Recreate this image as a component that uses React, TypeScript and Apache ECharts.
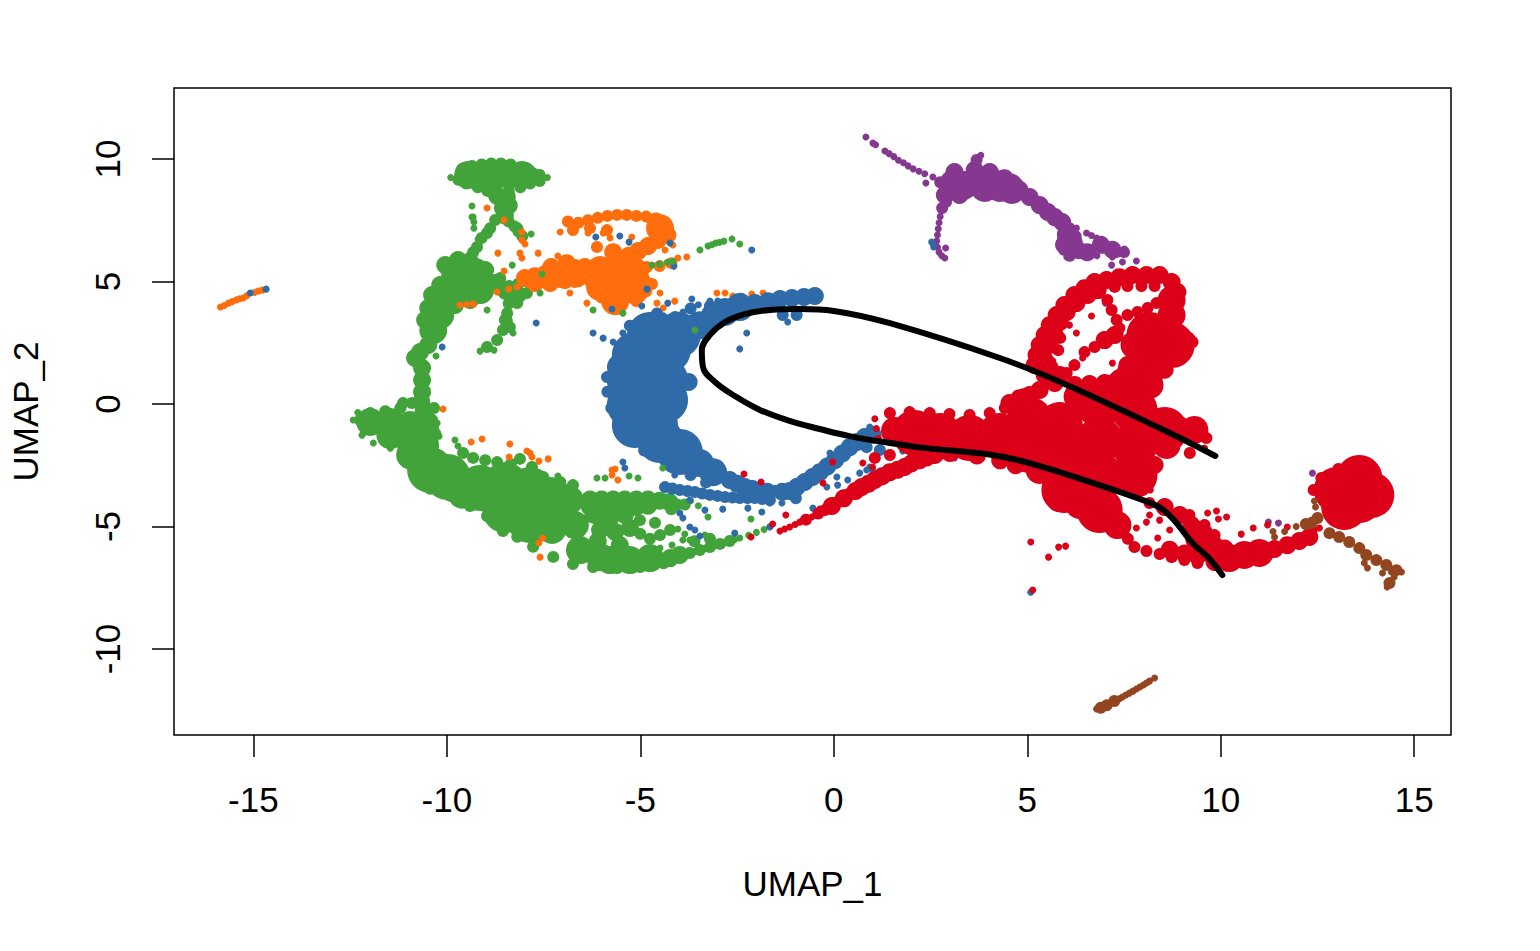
import React, { useEffect, useRef } from "react";
import * as echarts from "echarts";

type P = [number, number];

const xTicks = [-15, -10, -5, 0, 5, 10, 15];
const yTicks = [-10, -5, 0, 5, 10];
const xName = "UMAP_1";
const yName = "UMAP_2";

// ---- green cluster
const greenXL: P[] = [[-10.43, -2.69], [-9.98, -2.98], [-9.14, -3.43], [-8.49, -3.31], [-8.49, -4.33], [-7.85, -3.51], [-7.85, -4.74], [-7.33, -3.92]];
const greenL: P[] = [
  [-9.45, 9.35], [-9.1, 9.35], [-8.75, 9.35], [-8.4, 9.35], [-8.05, 9.35],
  [-9.79, 5.39], [-9.27, 5.39], [-9.66, 4.65], [-9.14, 4.65], [-10.04, 4.25], [-10.17, 3.63], [-10.35, 3.02],
  [-11.98, -0.73], [-11.46, -0.73], [-10.95, -0.86], [-10.56, -0.86], [-11.46, -1.27], [-10.95, -1.55], [-10.56, -1.67],
  [-7.28, -5.14], [-6.82, -3.92], [-6.69, -4.94], [-6.56, -5.96], [-6.04, -6.25], [-5.78, -6.37], [-5.27, -6.37], [-4.75, -6.29], [-10.95, -2.08], [-9.6, -3.7],
];
const greenM: P[] = [
  [-7.8, 9.3], [-8.7, 8.5], [-8.45, 8.45], [-8.4, 8.1], [-8.55, 8.0], [-8.5, 7.7],
  [-10.04, 5.67], [-9.71, 5.88], [-9.4, 5.8], [-9.01, 5.47], [-8.75, 4.94], [-8.49, 4.65], [-8.24, 4.57], [-10.17, 4.86], [-10.38, 4.45], [-10.48, 3.92], [-10.56, 3.43], [-9.79, 4.04], [-9.4, 4.25],
  [-10.48, 2.41], [-10.69, 2.12], [-10.82, 1.88], [-10.64, 1.47], [-10.64, 0.98], [-10.64, 0.49], [-10.66, 0.08], [-10.6, -0.3],
  [-6.3, -3.9], [-6.0, -3.9], [-5.7, -3.9], [-5.4, -3.9], [-5.1, -3.9], [-4.8, -3.9], [-4.5, -3.95], [-4.25, -4.0],
  [-6.3, -4.2], [-6.0, -4.2], [-5.7, -4.2], [-5.4, -4.2], [-5.1, -4.2], [-4.8, -4.15],
  [-6.17, -4.53], [-5.78, -4.65], [-5.4, -4.53], [-6.04, -5.14], [-5.65, -5.22], [-5.27, -5.06], [-5.53, -5.76], [-6.1, -5.6], [-4.23, -6.29], [-3.98, -6.16],
];
const greenS: P[] = [
  [-9.6, 9.6], [-9.35, 9.72], [-9.1, 9.78], [-8.85, 9.82], [-8.6, 9.82], [-8.35, 9.78], [-8.1, 9.65], [-7.85, 9.5], [-7.6, 9.35], [-9.7, 9.15], [-9.5, 9.0], [-9.2, 8.85], [-8.95, 8.7], [-8.7, 8.7], [-8.4, 8.7], [-8.1, 8.85], [-7.85, 9.0], [-7.6, 9.1],
  [-8.75, 7.51], [-8.88, 7.18], [-8.96, 6.98], [-9.1, 6.78], [-9.22, 6.41], [-9.32, 6.2], [-9.4, 5.98], [-8.4, 7.45], [-8.25, 7.25], [-8.18, 7.18], [-8.15, 7.05], [-8.05, 6.85],
  [-8.37, 4.37], [-7.93, 4.53], [-8.18, 4.12], [-8.1, 4.4], [-8.5, 4.5], [-8.44, 3.71], [-8.37, 3.14], [-8.45, 3.4], [-8.5, 3.43], [-8.55, 3.02], [-8.7, 2.61], [-8.96, 2.33], [-8.62, 5.14], [-8.39, 4.82], [-8.16, 4.9], [-8.8, 4.8], [-8.4, 4.1],
  [-12.24, -0.65], [-11.98, -0.37], [-11.59, -0.29], [-11.2, -0.16], [-11.13, 0.04], [-10.9, 0.04], [-10.38, -0.65], [-10.33, -0.16], [-10.3, -1.2],
  [-9.58, -2.0], [-9.32, -2.2], [-9.01, -2.29], [-8.7, -2.37], [-8.35, -2.45], [-8.11, -2.24], [-7.8, -2.57], [-7.51, -2.98], [-7.07, -3.18], [-6.74, -3.31],
  [-11.03, -2.4], [-10.77, -2.97], [-10.43, -3.46], [-9.91, -3.75], [-9.4, -4.16], [-8.96, -4.57], [-8.55, -5.18], [-8.18, -5.42], [-7.77, -5.83], [-7.25, -6.24], [-6.74, -6.53], [-6.22, -6.65], [-5.6, -6.7], [-5.0, -6.65], [-4.4, -6.5],
  [-3.72, -6.08], [-3.46, -5.96], [-3.2, -5.84], [-2.94, -5.71], [-2.69, -5.59],
  [-4.05, -4.1], [-3.85, -4.1], [-4.2, -4.3], [-5.01, -4.74], [-4.62, -4.85], [-4.75, -5.5], [-4.49, -5.35], [-4.23, -5.14], [-5.0, -5.3], [-6.3, -4.6], [-3.6, -5.6], [-3.2, -5.5],
];
const greenFine: P[] = [
  [-9.9, 9.25], [-7.4, 9.25], [-9.35, 7.63], [-9.32, 7.63], [-9.3, 7.43], [-9.3, 7.18], [-9.19, 6.73], [-9.14, 2.16], [-8.78, 2.2], [-8.29, 2.9],
  [-12.42, -0.65], [-12.3, -0.35], [-12.19, -1.27], [-11.9, -1.59], [-11.46, -1.8], [-11.2, -2.2], [-10.25, -0.78],
  [-2.43, -5.47], [-2.2, -5.36], [-2.0, -5.24], [-1.8, -5.12], [-1.65, -5.0], [-3.5, -4.15], [-3.7, -3.95], [-10.3, 3.95],
  [-9.75, 5.85], [-9.45, 6.0],
  [-3.6, -6.03], [-3.33, -5.9], [-3.07, -5.78], [-2.81, -5.65], [-2.56, -5.53], [-4.49, -5.88], [-4.18, -5.76], [-3.72, -5.55], [-3.33, -5.35],
];
// green marks drawn above orange and blue
const greenSpots: P[] = [[-8.31, 5.67], [-7.82, 6.94], [-9.35, 8.08], [-8.96, 3.84], [-10.28, 1.96], [-6.22, 3.84], [-5.45, 3.71], [-7.59, 4.53], [-3.59, 3.02], [-7.54, 5.31], [-3.46, 6.29], [-3.25, 6.45], [-3.15, 6.5], [-3.05, 6.57], [-2.95, 6.6], [-2.84, 6.65], [-2.63, 6.74], [-2.43, 6.53], [-4.7, 5.67], [-4.5, 5.71], [-4.3, 5.79], [-4.16, 5.83], [-4.42, -2.61], [-3.25, -4.61], [-2.14, -4.69], [-4.03, -5.1], [-3.85, -5.31], [-3.9, -5.55], [-6.12, -3.02], [-5.91, -3.02], [-5.29, -2.94], [-5.06, -3.02], [-7.13, -2.94], [-9.79, -1.47], [-9.71, -1.71], [-10.2, -1.31]];

// ---- orange cluster
const orangeL: P[] = [[-6.04, 5.47], [-5.53, 5.67], [-5.14, 5.39], [-6.04, 4.78], [-5.53, 4.86], [-5.14, 4.65], [-5.65, 4.2], [-4.49, 7.18]];
const orangeM: P[] = [[-7.98, 5.14], [-7.72, 5.22], [-7.46, 5.31], [-7.2, 5.39], [-6.95, 5.47], [-6.69, 5.55], [-6.43, 5.59], [-4.3, 6.9], [-4.55, 6.7], [-4.8, 6.45], [-5.05, 6.25], [-5.3, 6.05], [-5.7, 6.2], [-4.6, 7.45], [-7.72, 4.94], [-7.33, 4.94], [-6.95, 5.06], [-6.61, 5.14], [-7.3, 5.59], [-6.9, 5.75]];
const orangeS: P[] = [[-6.87, 7.45], [-6.6, 7.4], [-6.35, 7.5], [-6.1, 7.6], [-5.85, 7.68], [-5.6, 7.72], [-5.35, 7.72], [-5.1, 7.68], [-4.85, 7.65], [-6.74, 7.1], [-6.3, 7.18], [-5.86, 7.1], [-6.12, 6.41], [-7.07, 4.98], [-6.69, 4.98], [-6.3, 5.0], [-4.83, 5.59], [-4.5, 5.63], [-4.2, 5.75], [-6.0, 4.35], [-5.1, 4.2], [-4.85, 4.6], [-4.9, 5.1], [-4.7, 4.9]];
const orangeFine: P[] = [[-9.66, 4.04], [-9.48, 4.06], [-9.31, 4.08], [-8.7, 4.57], [-8.4, 4.7], [-8.18, 4.78], [-7.07, 7.02], [-6.35, 6.98], [-5.96, 6.98], [-5.78, 6.78], [-5.22, 6.82], [-4.36, 6.29], [-4.16, 6.49], [-8.06, 7.02], [-8.06, 6.69], [-7.98, 6.53], [-8.96, 8.0], [-8.52, 7.51], [-8.68, 6.16], [-7.64, 6.16], [-8.11, 6.16], [-8.06, 5.96], [-8.52, 5.43], [-7.13, 6.04], [-4.03, 5.96], [-3.8, 6.0], [-6.82, 4.53], [-6.38, 4.12], [-4.49, 4.53], [-4.11, 4.2], [-4.57, 4.12], [-4.41, 3.92], [-3.02, 4.53], [-2.81, 4.53], [-2.61, 4.41], [-2.12, 4.49], [-1.83, 4.53], [-15.85, 3.96], [-15.75, 4.02], [-15.64, 4.12], [-15.55, 4.18], [-15.44, 4.25], [-15.35, 4.3], [-15.26, 4.33], [-15.17, 4.42], [-14.97, 4.55], [-14.87, 4.61], [-14.77, 4.65], [-10.1, -0.2], [-9.37, -1.55], [-9.09, -1.43], [-8.37, -1.63], [-8.39, -2.16], [-7.93, -1.92], [-7.8, -2.16], [-7.62, -2.33], [-7.38, -2.24], [-7.85, -2.0], [-5.73, -2.69], [-5.65, -2.65], [-5.73, -2.9], [-5.58, -3.1], [-7.62, -5.67], [-7.52, -5.47], [-7.59, -6.25]];

// ---- purple cluster
const purpleL: P[] = [[3.38, 8.94], [3.77, 9.0], [4.15, 9.0], [4.54, 8.85], [3.25, 8.82], [3.9, 8.82], [4.29, 8.82], [4.6, 8.74]];
const purpleM: P[] = [[3.64, 9.55], [4.03, 9.47], [4.41, 9.22], [4.8, 8.74], [5.06, 8.45], [5.32, 8.12], [3.0, 9.14], [3.12, 9.47], [3.25, 8.53], [2.87, 8.53], [5.53, 7.84], [5.71, 7.63], [5.9, 7.43], [6.0, 6.9], [6.2, 6.6], [5.95, 6.5], [6.3, 6.3], [6.55, 6.2], [6.9, 6.5], [7.2, 6.3]];
const purpleS: P[] = [[3.69, 9.96], [6.09, 7.18], [3.0, 8.53], [2.75, 9.05], [2.9, 8.25], [2.8, 8.0], [6.27, 6.3], [5.95, 6.3], [6.1, 6.05], [6.35, 6.15], [5.92, 6.7], [6.25, 6.85], [6.95, 6.5], [7.3, 6.2], [7.5, 6.2]];
const purpleFine: P[] = [[0.83, 10.9], [1.01, 10.65], [1.08, 10.58], [1.32, 10.33], [1.43, 10.22], [1.55, 10.1], [1.67, 9.95], [1.8, 9.85], [1.92, 9.72], [2.05, 9.6], [2.2, 9.5], [2.35, 9.4], [2.56, 9.27], [2.38, 9.02], [2.85, 8.15], [2.78, 7.9], [2.75, 7.65], [2.72, 7.4], [2.7, 7.15], [2.68, 6.9], [2.66, 6.65], [2.68, 6.4], [2.72, 6.2], [2.79, 6.05], [2.87, 5.96], [2.89, 6.37], [3.8, 10.15], [6.22, 7.02], [5.86, 6.98], [6.02, 6.0], [6.27, 7.18], [6.53, 6.98], [6.66, 6.88], [6.79, 6.78], [6.56, 6.0], [6.8, 6.05], [6.61, 6.29], [7.05, 6.49], [7.31, 6.37], [7.51, 6.33], [7.2, 6.0], [7.18, 5.67], [7.46, 5.8], [7.82, 5.84], [6.95, 6.29], [7.05, 4.33], [7.02, 4.12], [12.37, -2.82], [12.55, -3.0], [11.23, -4.82], [11.49, -4.86], [3.12, -2.2]];

// ---- blue cluster
const blueXL: P[] = [[-5.27, 0.98], [-4.36, 0.98], [-5.27, -0.04], [-4.36, 0.16], [-5.14, -0.86], [-4.62, -0.86], [-5.14, 2.0], [-4.29, 2.2], [-4.75, 2.82], [-4.03, 2.82], [-4.8, 0.5], [-4.49, -1.47], [-3.98, -1.96]];
const blueL: P[] = [[-3.46, 3.22], [-3.07, 3.6], [-2.81, 3.76], [-2.43, 3.96], [-3.46, -2.41], [-3.12, -2.78], [-5.5, 1.5], [-5.4, 0.3]];
const blueM: P[] = [[-3.75, 0.9], [-2.04, 4.12], [-1.7, 4.2], [-1.39, 4.29], [-1.08, 4.33], [-0.77, 4.37], [-0.49, 4.41], [-2.69, -3.1], [-2.5, -3.25], [-2.3, -3.39], [-2.1, -3.47], [-1.91, -3.55], [-1.72, -3.58], [-1.33, -3.58], [-1.14, -3.55], [-0.95, -3.38], [-0.75, -3.18], [-0.55, -2.98], [-0.36, -2.78], [-0.17, -2.55], [0.03, -2.29], [0.22, -2.02], [0.41, -1.76], [0.6, -1.55], [0.8, -1.35], [1.0, -1.25]];
const blueS: P[] = [[-1.52, -3.55], [-4.36, -3.39], [-4.17, -3.45], [-3.98, -3.51], [-3.78, -3.55], [-3.59, -3.59], [-3.4, -3.65], [-3.2, -3.71], [-3.0, -3.75], [-2.81, -3.8], [-2.62, -3.82], [-2.43, -3.84], [-2.23, -3.84], [-2.04, -3.84], [-1.85, -3.88], [-1.65, -3.92], [-0.98, -3.85], [0.85, -1.76], [1.19, -1.88], [-1.32, 3.63], [-0.96, 3.63], [-5.86, 1.1], [-5.85, 0.5], [-5.75, -0.16], [-5.5, -0.78], [-5.3, -1.39], [-4.9, -1.9], [-4.3, -2.45], [-3.7, -2.9], [-3.3, -3.2], [-5.27, 3.2], [-4.57, 3.7], [-4.1, 3.55], [-3.7, 3.9], [-3.2, 4.0], [-2.87, 4.05], [-2.4, 4.3]];
const blueFine: P[] = [[-4.9, 3.55], [-4.4, 3.6], [-3.9, 3.75], [-3.5, 4.05], [-3.0, 4.2], [-2.65, 4.2], [-1.19, 3.35], [-2.25, 2.9], [-2.43, 2.25], [-6.22, 2.9], [-5.96, 2.69], [-5.7, 2.53], [-5.48, 2.25], [-5.45, 2.9], [-3.67, 4.29], [-3.2, 4.2], [-4.83, 4.69], [-4.29, 4.12], [-3.72, -3.92], [-3.33, -4.33], [-2.87, -4.29], [-2.22, -4.25], [-1.86, -4.41], [-1.65, -4.04], [-1.34, -4.04], [-4.11, -2.9], [-5.45, -2.37], [-5.4, -2.61], [-0.54, -4.25], [-0.18, -3.39], [0.08, -2.98], [0.1, -3.31], [0.36, -3.1], [0.67, -2.82], [0.85, -2.69], [1.0, -2.69], [-0.1, -2.0], [0.93, -2.57], [1.76, -2.45], [1.78, -1.92], [0.93, -0.94], [5.09, -7.68], [-10.12, 2.33], [-7.69, 3.31], [-6.15, 6.82], [-5.53, 6.86], [-5.29, 6.61], [-4.23, 6.57], [-4.13, 5.63], [-5.73, 3.88], [-4.96, 4.0], [2.53, 6.61], [2.58, 6.41], [-15.08, 4.53], [-14.67, 4.69], [-2.56, -5.27], [-3.72, -5.02], [-3.59, -5.14], [-3.46, -5.39], [-3.98, -4.45], [-3.9, -4.65], [-1.65, -5.02], [-2.12, 6.29]];

// ---- red cluster
const redXL: P[] = [[5.06, -0.65], [5.06, -1.88], [5.84, -0.86], [5.96, -2.1], [5.96, -3.51], [6.87, -0.04], [6.87, -1.47], [6.87, -2.9], [6.87, -4.33], [7.77, -0.24], [7.77, -1.67], [7.77, -2.9], [8.55, -1.06], [4.29, -1.31], [3.51, -1.39], [2.74, -1.31], [2.09, -1.18], [8.16, 2.82], [8.73, 2.41], [8.16, 1.8], [7.9, 1.18], [13.0, -3.51], [13.58, -3.02], [13.89, -3.71], [13.19, -4.2], [13.58, -3.92]];
const redL: P[] = [[1.58, -1.1], [5.32, -2.69], [6.35, -4.12], [5.84, -3.84], [7.33, -4.94], [8.73, 4.25], [8.73, 3.63], [7.77, 2.41], [7.38, 0.78], [8.42, 2.0], [8.16, 0.78], [9.32, -1.06], [8.6, -1.67], [9.71, -5.88], [9.45, -5.35], [10.0, -6.2], [10.22, -6.29], [10.61, -6.16], [11.0, -6.08], [6.3, 0.3], [7.1, 0.5]];
const redM: P[] = [
  [5.24, 2.0], [5.32, 2.41], [5.45, 2.82], [5.58, 3.22], [5.76, 3.63], [5.96, 4.04], [6.22, 4.45], [6.48, 4.73], [6.74, 4.98], [7.05, 5.06], [7.38, 5.18], [7.72, 5.27], [8.08, 5.27], [8.42, 5.27], [8.73, 4.98], [8.88, 4.57],
  [5.58, 2.41], [5.71, 2.82], [5.84, 3.35], [6.02, 3.76], [6.27, 4.12], [6.56, 4.45], [6.82, 4.65], [5.45, 1.8], [5.84, 1.18], [5.58, 1.47],
  [9.12, 2.61], [8.55, 1.4], [7.26, 2.82], [7.0, 2.61], [6.22, 0.78], [6.61, 0.82], [7.0, 0.86], [7.38, 1.06], [7.59, 1.59], [5.19, 1.59], [5.45, 1.18], [5.71, 0.86], [8.29, -2.49], [8.94, -0.86], [9.4, -1.06],
  [4.54, 0.04], [4.8, 0.24], [5.06, 0.37], [5.32, 0.57],
  [8.55, -4.2], [8.94, -4.53], [9.24, -4.94], [9.58, -5.35], [9.84, -5.76], [9.32, -5.55], [9.84, -6.45], [10.1, -5.9], [8.68, -5.95], [9.06, -6.1], [9.4, -6.2], [11.39, -5.92], [11.72, -5.76], [12.03, -5.59], [12.29, -5.43],
  [-0.05, -4.16], [0.26, -3.85], [0.56, -3.55], [0.9, -3.25], [1.25, -2.95], [1.65, -2.68], [2.0, -2.43], [2.4, -2.18],
  [0.72, -3.39], [1.06, -3.1], [1.45, -2.78], [1.83, -2.57], [2.22, -2.29], [2.61, -2.08], [3.0, -2.0], [3.7, -2.1], [4.3, -2.3], [4.7, -2.5],
];
const redS: P[] = [
  [7.26, 4.78], [7.59, 4.82], [7.95, 4.82], [8.29, 4.82], [7.59, 3.63], [7.85, 3.76], [8.11, 3.92], [8.34, 4.12], [7.07, 4.25], [7.18, 3.84], [7.31, 3.43], [7.38, 3.1],
  [6.74, 2.33], [6.48, 2.12], [6.22, 1.59], [6.02, 1.27], [9.27, 2.53], [5.8, 2.2], [5.85, 2.7],
  [0.1, -4.0], [0.41, -3.71], [-0.23, -4.33], [-0.4, -4.47], [-0.72, -4.72], [1.06, -2.2], [1.45, -2.08], [1.45, -0.37], [1.96, -0.33], [2.48, -0.37], [2.99, -0.41], [3.51, -0.45], [4.03, -0.37], [4.42, -0.16], [4.67, 0.08], [4.9, 0.4], [6.1, 0.35],
  [7.77, -5.84], [8.08, -6.0], [8.42, -6.12], [8.73, -6.25], [9.06, -6.37], [9.4, -6.49], [8.16, -4.04], [7.6, -5.5],
  [9.19, -4.53], [9.58, -4.94], [9.84, -5.35],
  [9.63, -1.39], [9.2, -2.0],
  [12.4, -3.51], [12.6, -3.02], [13.04, -2.65], [13.43, -2.45], [13.71, -2.65], [14.0, -3.1], [14.25, -3.8], [14.0, -4.16], [13.64, -4.49], [13.12, -4.82], [12.81, -4.41],
];
const redFine: P[] = [[-0.57, -4.61], [-0.88, -4.82], [-1.0, -4.92], [-1.14, -5.02], [-1.27, -5.1], [-1.39, -5.18], [-1.58, -4.9], [-2.14, -5.43], [1.06, -0.6], [1.1, -1.0], [1.15, -1.4], [9.58, -1.8], [8.16, -4.53], [8.42, -4.74], [8.37, -5.47], [8.6, -5.76], [9.01, -6.04], [7.82, -5.06], [8.68, -5.14], [8.08, -4.82], [8.18, -3.51], [9.66, -4.45], [9.89, -4.37], [9.94, -4.69], [10.15, -4.61], [10.53, -5.31], [10.84, -5.06], [5.09, -5.63], [5.81, -5.84], [5.99, -5.8], [5.55, -6.25], [5.14, -7.59], [12.42, -5.14], [12.55, -5.06], [11.72, -5.02], [11.21, -4.94], [-2.32, -2.86], [-1.88, -3.18], [-0.03, -2.37], [-0.28, -3.22], [0.34, -3.59], [-0.36, -4.29], [-1.24, -4.53], [0.75, -2.41], [1.0, -2.57], [6.66, 3.59], [6.09, 3.22], [6.27, 2.9], [6.43, 1.88], [5.66, 1.76], [5.68, 1.47], [7.2, 1.67], [6.6, 4.3]];

// ---- brown cluster
const brownS: P[] = [[12.5, -4.65], [12.35, -4.85], [12.2, -4.9], [12.81, -5.27], [13.06, -5.43], [13.32, -5.63], [13.58, -5.88], [13.76, -6.16], [14.02, -6.37], [14.28, -6.57], [14.54, -6.78], [14.36, -7.31], [6.9, -12.4], [7.05, -12.3], [7.25, -12.12]];
const brownFine: P[] = [[12.42, -3.96], [12.45, -4.2], [11.95, -5.0], [11.65, -5.2], [11.35, -5.2], [11.39, -5.43], [14.67, -6.86], [14.41, -6.86], [14.48, -7.06], [14.3, -7.47], [13.71, -6.49], [13.79, -6.69], [14.18, -6.9], [6.79, -12.45], [7.31, -12.08], [7.39, -12.02], [7.46, -11.96], [7.55, -11.88], [7.64, -11.8], [7.73, -11.72], [7.82, -11.63], [7.91, -11.55], [8.0, -11.47], [8.08, -11.39], [8.16, -11.31], [8.29, -11.18]];

// ---- fitted curve
const curve: P[] = [[9.86, -2.12], [8.42, -0.98], [5.91, 0.86], [4.29, 1.88], [1.45, 3.3], [0.0, 3.8], [-0.88, 3.88], [-1.65, 3.84], [-2.3, 3.67], [-2.81, 3.35], [-3.2, 2.82], [-3.41, 2.2], [-3.38, 1.51], [-3.07, 0.9], [-2.56, 0.33], [-1.91, -0.24], [-1.14, -0.69], [-0.36, -1.02], [0.41, -1.31], [1.45, -1.59], [2.4, -1.8], [4.1, -2.08], [5.24, -2.49], [6.69, -3.22], [7.98, -3.92], [8.45, -4.25], [8.8, -4.75], [9.27, -5.67], [9.7, -6.3], [10.04, -6.98]];

const RED = "#DC0018";
const BLUE = "#2E6BA8";
const GREEN = "#41A33A";
const PURPLE = "#863790";
const ORANGE = "#FF6D0C";
const BROWN = "#934520";

const FONT = '"Liberation Sans", Arial, sans-serif';

function layer(data: P[], color: string, size: number) {
  return {
    type: "scatter" as const,
    data,
    symbol: "circle",
    symbolSize: size,
    itemStyle: { color, opacity: 1 },
    silent: true,
  };
}

export default function App() {
  const ref = useRef<HTMLDivElement>(null);
  useEffect(() => {
    if (!ref.current) return;
    const chart = echarts.init(ref.current, undefined, { renderer: "svg" });
    const XL = 46, L = 28, M = 18, S = 12, F = 7;
    const text = { color: "#000", fontFamily: FONT, fontSize: 35 };
    chart.setOption({
      animation: false,
      backgroundColor: "#fff",
      grid: { left: 173, top: 88, width: 1278, height: 647, show: true, borderColor: "#000", borderWidth: 1.5, backgroundColor: "transparent" },
      xAxis: {
        type: "value",
        min: -17.05,
        max: 15.95,
        splitLine: { show: false },
        axisLine: { show: false, onZero: false },
        axisTick: { show: true, length: 22, lineStyle: { color: "#000", width: 1.5 }, customValues: xTicks },
        axisLabel: { ...text, margin: 47, customValues: xTicks, showMinLabel: true, showMaxLabel: true },
        name: xName,
        nameLocation: "middle",
        nameGap: 131,
        nameTextStyle: text,
      },
      yAxis: {
        type: "value",
        min: -13.51,
        max: 12.9,
        splitLine: { show: false },
        axisLine: { show: false, onZero: false },
        axisTick: { show: true, length: 22, lineStyle: { color: "#000", width: 1.5 }, customValues: yTicks },
        axisLabel: { ...text, margin: 49, rotate: 90, customValues: yTicks, align: "center", verticalAlign: "bottom" },
        name: yName,
        nameLocation: "middle",
        nameGap: 131,
        nameRotate: 90,
        nameTextStyle: text,
      },
      series: [
        layer(greenXL, GREEN, XL), layer(greenL, GREEN, L), layer(greenM, GREEN, M), layer(greenS, GREEN, S), layer(greenFine, GREEN, F),
        layer(orangeL, ORANGE, L), layer(orangeM, ORANGE, M), layer(orangeS, ORANGE, S), layer(orangeFine, ORANGE, F),
        layer(purpleL, PURPLE, L), layer(purpleM, PURPLE, M), layer(purpleS, PURPLE, S), layer(purpleFine, PURPLE, F),
        layer(blueXL, BLUE, XL), layer(blueL, BLUE, L), layer(blueM, BLUE, M), layer(blueS, BLUE, S), layer(blueFine, BLUE, F),
        layer(greenSpots, GREEN, F),
        layer(redXL, RED, XL), layer(redL, RED, L), layer(redM, RED, M), layer(redS, RED, S), layer(redFine, RED, F),
        layer(brownS, BROWN, S), layer(brownFine, BROWN, F),
        {
          type: "line",
          data: curve,
          smooth: 0.4,
          symbol: "none",
          silent: true,
          lineStyle: { color: "#000", width: 6, cap: "round", join: "round" },
        },
      ],
    });
    return () => chart.dispose();
  }, []);
  return <div ref={ref} style={{ position: "absolute", left: 0, top: 0, width: 1540, height: 951 }} />;
}
